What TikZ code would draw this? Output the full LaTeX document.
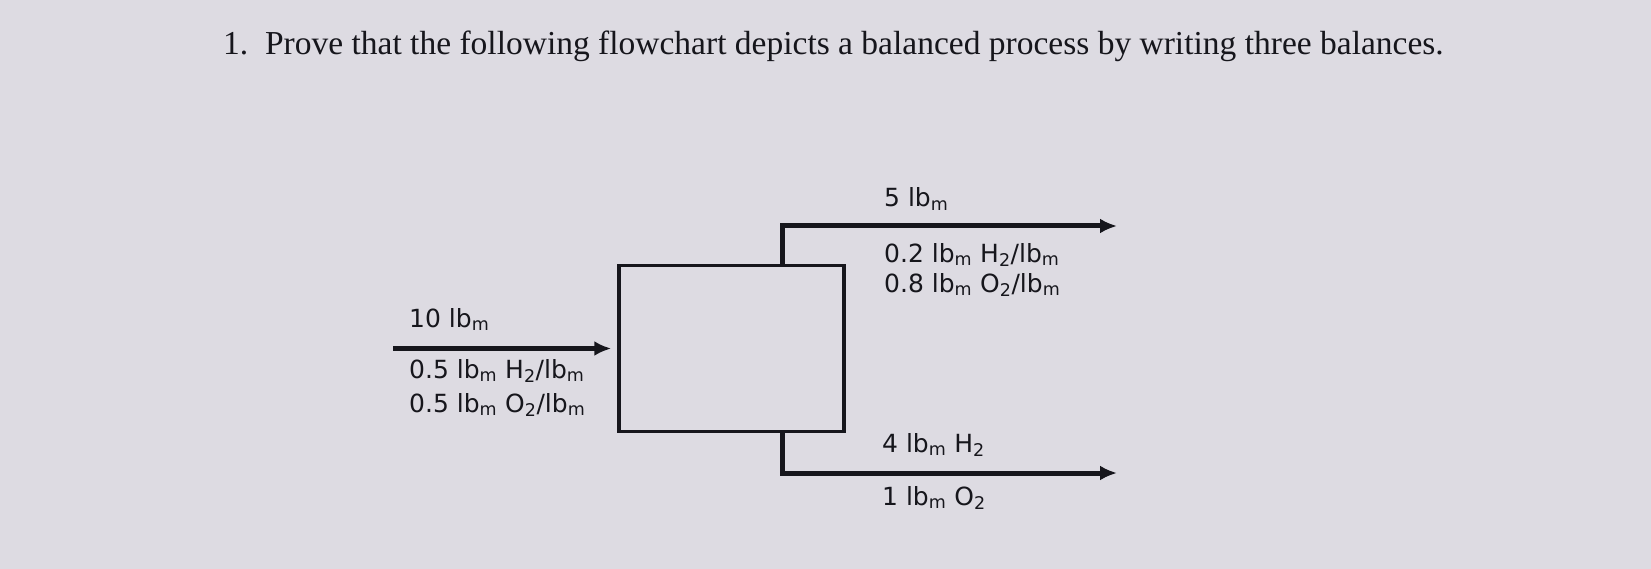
\documentclass[tikz,border=0pt]{standalone}
\usepackage{fontspec}
\setmainfont{Liberation Serif}
\newfontfamily\labelfont{DejaVu Sans}
\usetikzlibrary{arrows.meta}
\definecolor{screen}{RGB}{221,219,226}
\definecolor{ink}{RGB}{22,22,28}
\newcommand{\lbm}{lb\textsubscript{m}}
\begin{document}
\begin{tikzpicture}[x=1pt, y=-1pt, ink,
    unitbox/.style = {draw, line width=3.5pt, minimum width=225pt, minimum height=166pt, inner sep=0pt},
    stream/.style = {line width=5pt, -{Latex[length=17pt,width=15pt]}},
    lbl/.style = {anchor=base west, inner sep=0pt, font=\labelfont\fontsize{25}{30}\selectfont}]
    \fill[screen] (0,0) rectangle (1651,569);
    \useasboundingbox (0,0) rectangle (1651,569);
    % question
    \node[anchor=base west, inner sep=0pt, font=\fontsize{33.5}{40}\selectfont] (title) at (223,55)
        {1.\ \ Prove that the following flowchart depicts a balanced process by writing three balances.};
    % process unit
    \node[unitbox] (unit) at (731.5,348.5) {};
    \coordinate (feedin) at (393,348.5);
    \coordinate (stem) at (782,0);
    \coordinate (topout) at (1117,226);
    \coordinate (botout) at (1117,473);
    % streams
    \draw[stream, shorten >=6pt] (feedin) -- (unit.west);
    \draw[stream] (unit.north -| stem) |- (topout);
    \draw[stream] (unit.south -| stem) |- (botout);
    % feed labels
    \node[lbl] (feedtot) at (409,327) {10 \lbm};
    \node[lbl] (feedh) at (409,378) {0.5 \lbm{} H\textsubscript{2}/\lbm};
    \node[lbl] (feedo) at (409,412) {0.5 \lbm{} O\textsubscript{2}/\lbm};
    % top product labels
    \node[lbl] (toptot) at (884,207) {5 \lbm};
    \node[lbl] (toph) at (884,262) {0.2 \lbm{} H\textsubscript{2}/\lbm};
    \node[lbl] (topo) at (884,292) {0.8 \lbm{} O\textsubscript{2}/\lbm};
    % bottom product labels
    \node[lbl] (both) at (882,452) {4 \lbm{} H\textsubscript{2}};
    \node[lbl] (boto) at (882,505) {1 \lbm{} O\textsubscript{2}};
\end{tikzpicture}
\end{document}
